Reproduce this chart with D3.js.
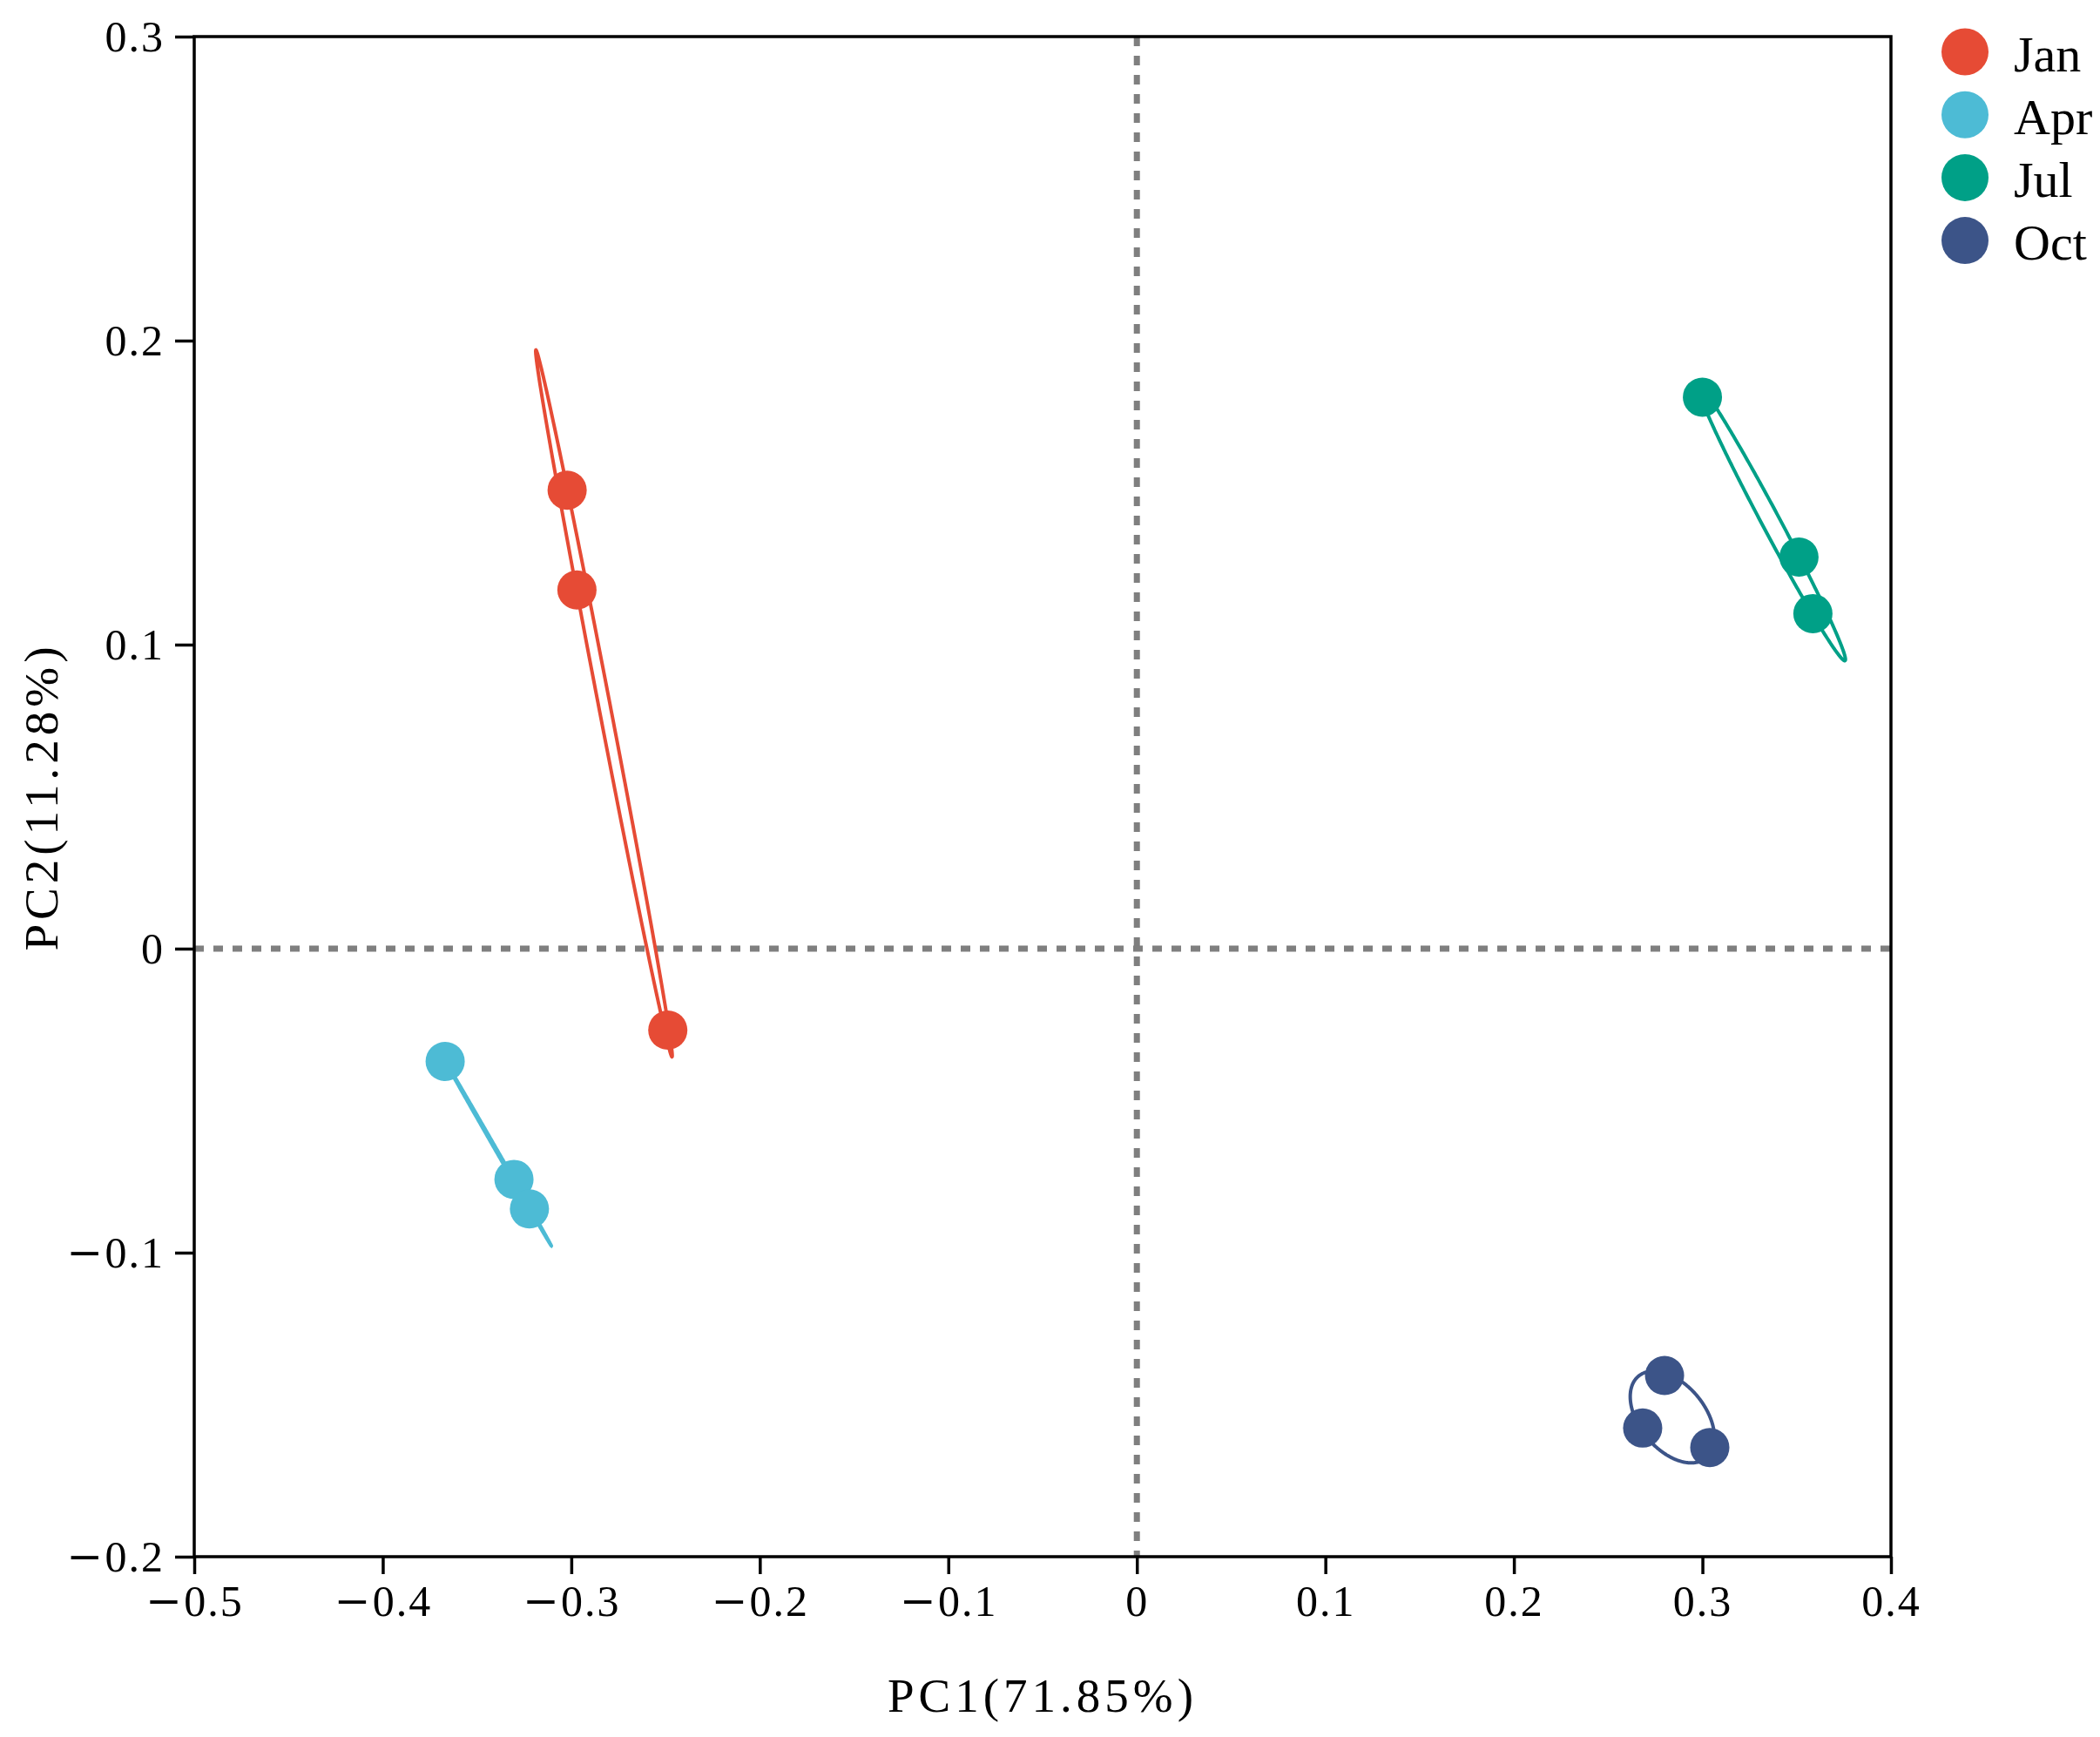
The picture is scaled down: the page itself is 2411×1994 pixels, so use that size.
<!DOCTYPE html>
<html lang="en">
<head>
<meta charset="UTF-8">
<title>PCA</title>
<script src="https://d3js.org/d3.v7.min.js"></script>
<style>
  body { margin: 0; background: #fff; }
  svg text { font-family: "Liberation Serif", "Times New Roman", serif; fill: #000; }
</style>
</head>
<body>
<div id="chart"></div>
<script>
    // data
    var groups = ["Jan", "Apr", "Jul", "Oct"];
    var colors = ["#E64B35", "#4DBBD5", "#00A087", "#3C5488"];
    var pc1 = [
        [-0.3022, -0.2970, -0.2488],
        [-0.3669, -0.3304, -0.3222],
        [0.3000, 0.3512, 0.3586],
        [0.2799, 0.2683, 0.3039]
    ];
    var pc2 = [
        [0.1508, 0.1180, -0.0268],
        [-0.0371, -0.0759, -0.0856],
        [0.1814, 0.1288, 0.1102],
        [-0.1404, -0.1577, -0.1641]
    ];
    var xTicks = [-0.5, -0.4, -0.3, -0.2, -0.1, 0, 0.1, 0.2, 0.3, 0.4];
    var yTicks = [-0.2, -0.1, 0, 0.1, 0.2, 0.3];
    var xTitle = "PC1(71.85%)";
    var yTitle = "PC2(11.28%)";

    // plot frame (note: "top" is taken by window.top, so use other names)
    var W = 2411, H = 1994;
    var pLeft = 223, pRight = 2171, pTop = 42, pBottom = 1787;
    var ellipseScale = 1.23;

    var svg = d3.select("#chart").append("svg")
        .attr("width", W)
        .attr("height", H);

    var x = d3.scaleLinear().domain([-0.5, 0.4]).range([pLeft, pRight]);
    var y = d3.scaleLinear().domain([-0.2, 0.3]).range([pBottom, pTop]);

    var fmt = function(d) { return d === 0 ? "0" : d3.format(".1f")(Math.abs(d)); };

    // zero lines
    svg.append("line")
        .attr("x1", x(0)).attr("x2", x(0))
        .attr("y1", pTop).attr("y2", pBottom)
        .attr("stroke", "#7f7f7f").attr("stroke-width", 7)
        .attr("stroke-dasharray", "11 11");
    svg.append("line")
        .attr("x1", pLeft).attr("x2", pRight)
        .attr("y1", y(0)).attr("y2", y(0))
        .attr("stroke", "#7f7f7f").attr("stroke-width", 7)
        .attr("stroke-dasharray", "11 11");

    // axes
    var xAxis = svg.append("g")
        .attr("transform", "translate(0," + pBottom + ")")
        .call(d3.axisBottom(x).tickValues(xTicks).tickFormat(fmt)
            .tickSize(20).tickSizeOuter(0).tickPadding(12));
    var yAxis = svg.append("g")
        .attr("transform", "translate(" + pLeft + ",0)")
        .call(d3.axisLeft(y).tickValues(yTicks).tickFormat(fmt)
            .tickSize(22).tickSizeOuter(0).tickPadding(12));

    [xAxis, yAxis].forEach(function(a) {
        a.select(".domain").remove();
        a.selectAll(".tick line").attr("stroke", "#000").attr("stroke-width", 3.5);
        a.selectAll(".tick text")
            .attr("font-size", 50)
            .attr("letter-spacing", 2)
            .style("font-family", "'Liberation Serif', 'Times New Roman', serif")
            .attr("fill", "#000")
            .each(function(d) {
                // long minus sign as in the original figure
                if (d < 0) {
                    var t = d3.select(this), s = t.text();
                    t.text(null);
                    t.append("tspan").style("font-family", "'DejaVu Serif', serif").text("\u2212");
                    t.append("tspan").text(s);
                }
            });
    });

    // panel border
    svg.append("rect")
        .attr("x", pLeft).attr("y", pTop)
        .attr("width", pRight - pLeft).attr("height", pBottom - pTop)
        .attr("fill", "none")
        .attr("stroke", "#000")
        .attr("stroke-width", 3.5);

    // ellipses from group covariance
    function ellipse(xs, ys) {
        var n = xs.length;
        var mx = d3.mean(xs), my = d3.mean(ys);
        var sxx = 0, syy = 0, sxy = 0;
        for (var i = 0; i < n; i++) {
            sxx += (xs[i] - mx) * (xs[i] - mx);
            syy += (ys[i] - my) * (ys[i] - my);
            sxy += (xs[i] - mx) * (ys[i] - my);
        }
        sxx /= (n - 1); syy /= (n - 1); sxy /= (n - 1);
        var a = Math.sqrt(sxx);
        var b = sxy / a;
        var c = Math.sqrt(Math.max(syy - b * b, 0));
        var pts = [];
        for (var k = 0; k < 360; k++) {
            var t = k / 360 * 2 * Math.PI;
            var u = Math.cos(t) * ellipseScale, v = Math.sin(t) * ellipseScale;
            pts.push([mx + a * u, my + b * u + c * v]);
        }
        return pts;
    }

    var line = d3.line()
        .x(function(d) { return x(d[0]); })
        .y(function(d) { return y(d[1]); })
        .curve(d3.curveLinearClosed);

    svg.append("g").selectAll("path")
        .data(groups)
        .join("path")
        .attr("d", function(d, i) { return line(ellipse(pc1[i], pc2[i])); })
        .attr("fill", "none")
        .attr("stroke", function(d, i) { return colors[i]; })
        .attr("stroke-width", 4);

    // points
    groups.forEach(function(g, i) {
        svg.append("g").selectAll("circle")
            .data(d3.range(pc1[i].length))
            .join("circle")
            .attr("cx", function(j) { return x(pc1[i][j]); })
            .attr("cy", function(j) { return y(pc2[i][j]); })
            .attr("r", 22.5)
            .attr("fill", colors[i]);
    });

    // axis titles
    svg.append("text")
        .attr("x", (pLeft + pRight) / 2)
        .attr("y", 1965)
        .attr("text-anchor", "middle")
        .attr("font-size", 55)
        .attr("letter-spacing", 5)
        .text(xTitle);
    svg.append("text")
        .attr("transform", "translate(66," + (pTop + pBottom) / 2 + ") rotate(-90)")
        .attr("text-anchor", "middle")
        .attr("font-size", 55)
        .attr("letter-spacing", 5)
        .text(yTitle);

    // legend
    var legend = svg.append("g").selectAll("g")
        .data(groups)
        .join("g")
        .attr("transform", function(d, i) { return "translate(2256," + (59.5 + i * 72.2) + ")"; });
    legend.append("circle")
        .attr("r", 27)
        .attr("fill", function(d, i) { return colors[i]; });
    legend.append("text")
        .attr("x", 56)
        .attr("y", 22)
        .attr("font-size", 58)
        .text(function(d) { return d; });
</script>
</body>
</html>
